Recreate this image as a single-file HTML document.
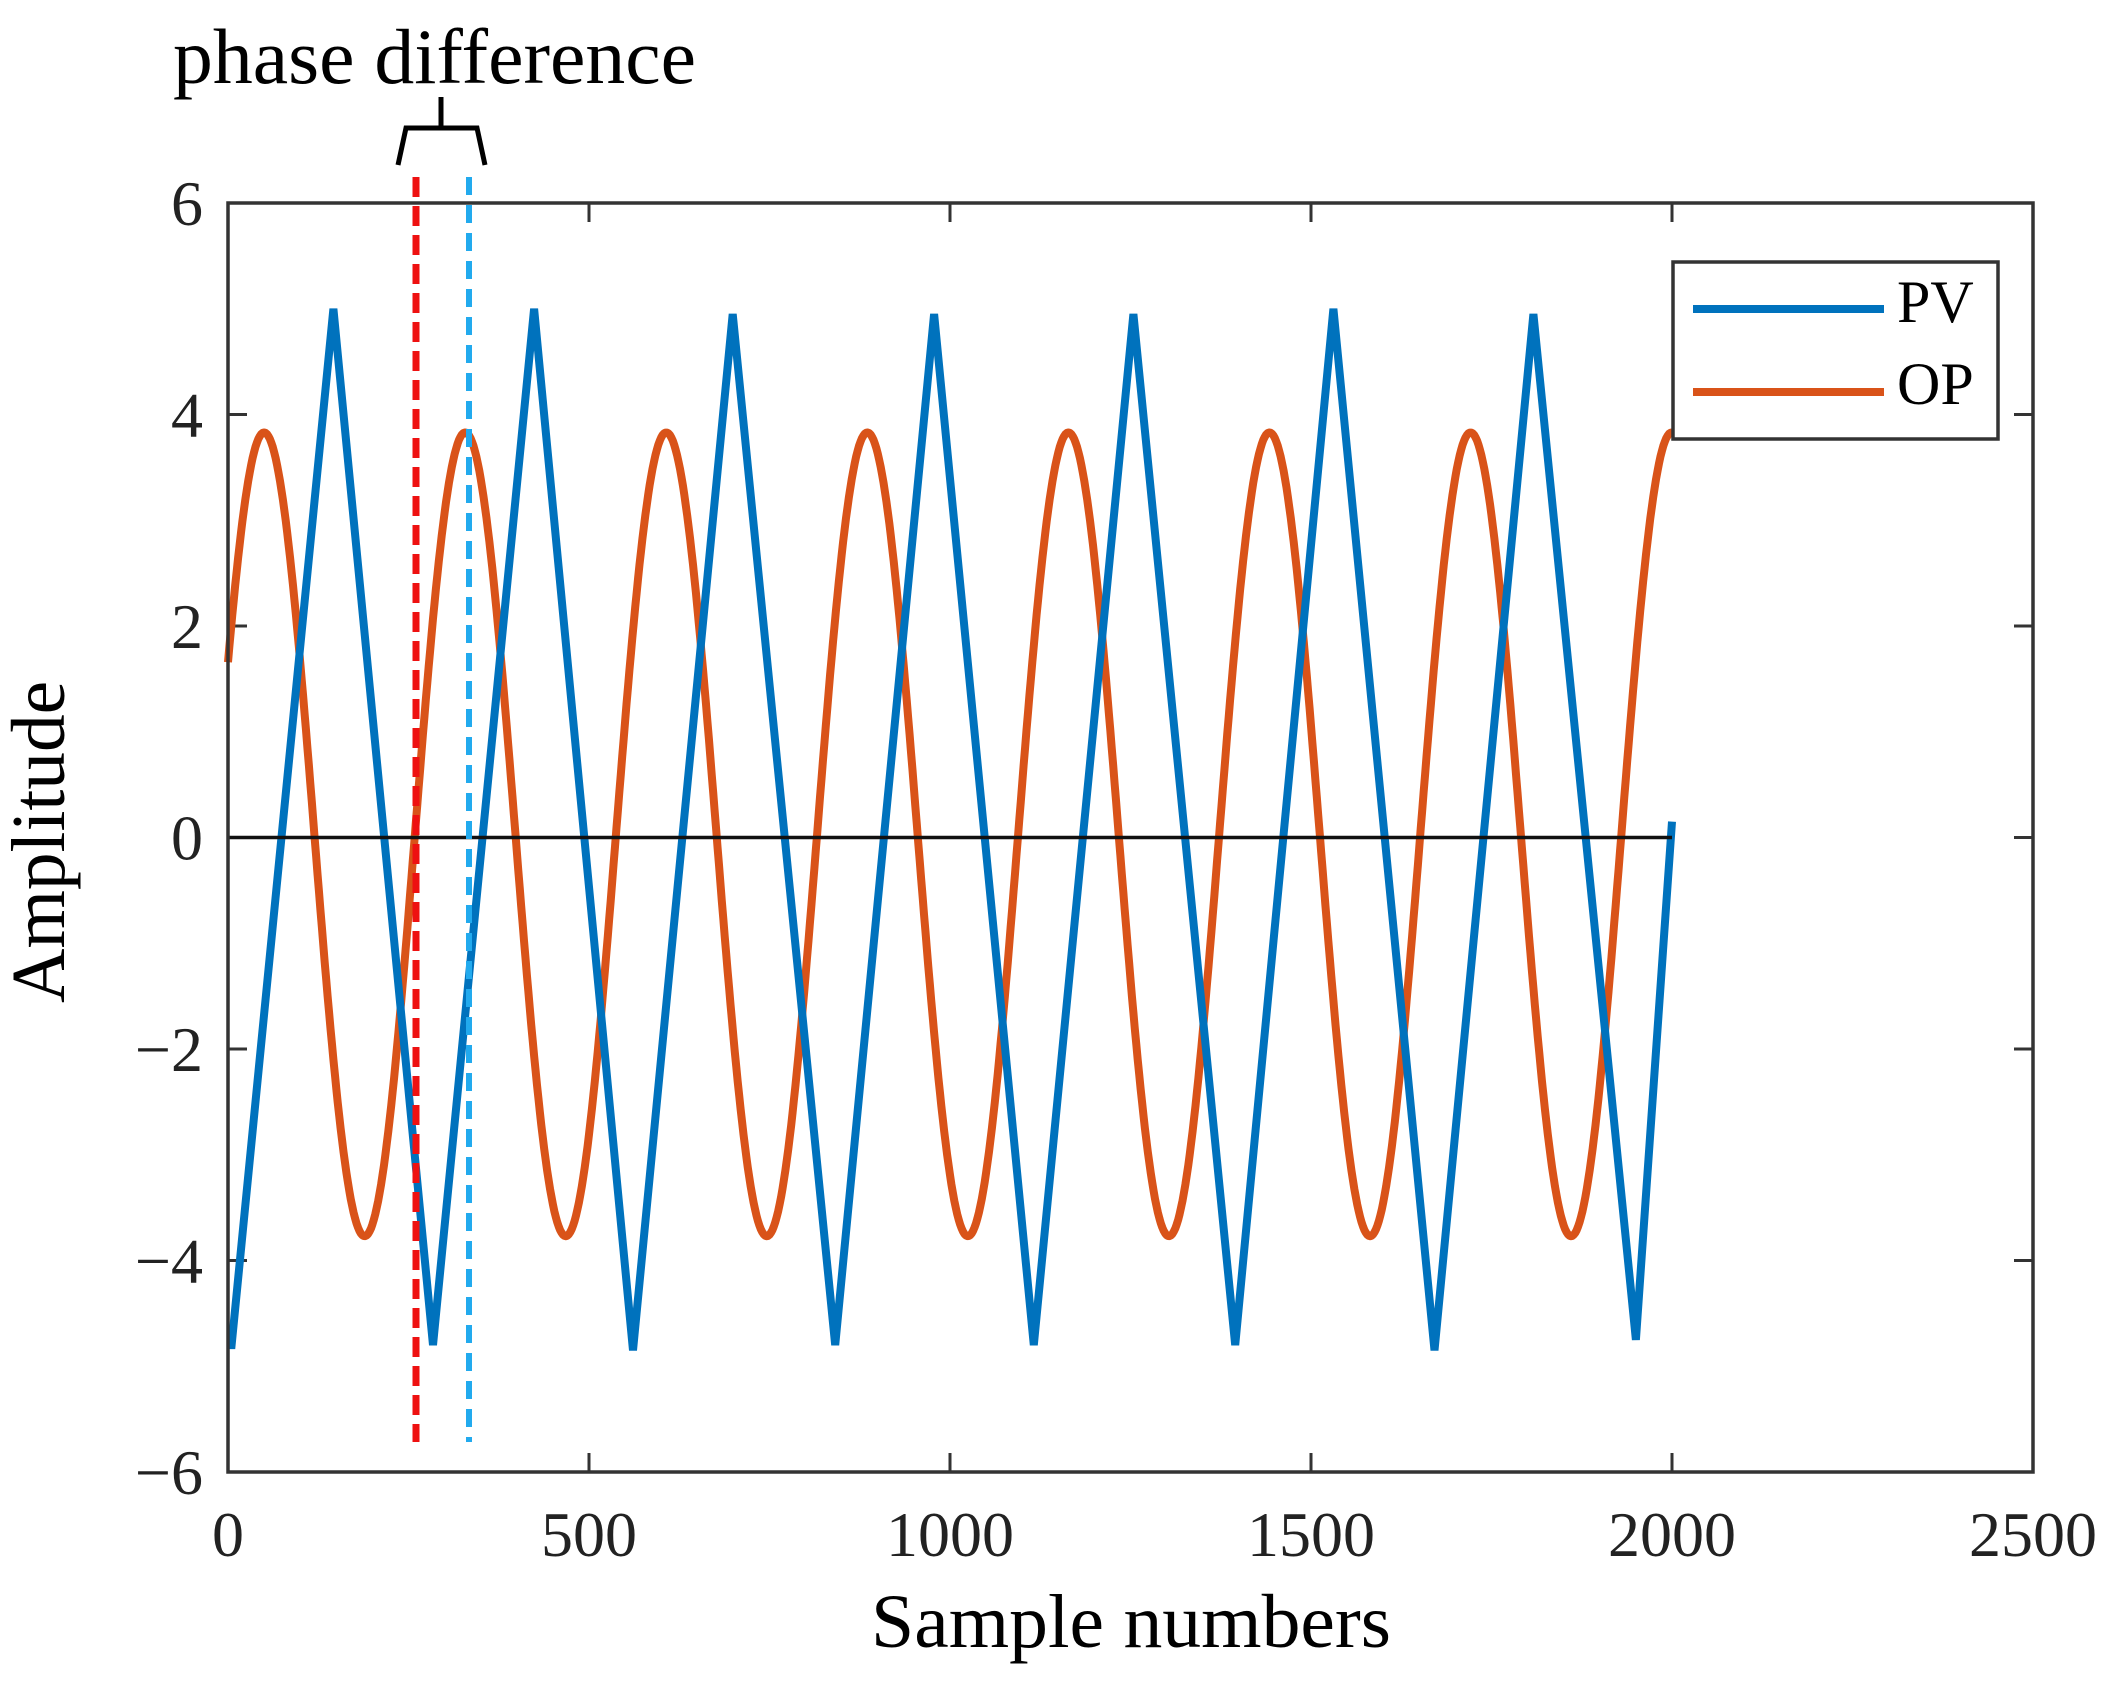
<!DOCTYPE html>
<html><head><meta charset="utf-8"><style>html,body{margin:0;padding:0;background:#fff}svg{display:block}</style></head>
<body>
<svg id="s" width="2116" height="1689" viewBox="0 0 2116 1689" xmlns="http://www.w3.org/2000/svg" font-family="'Liberation Serif', serif">
<rect width="2116" height="1689" fill="#fff"/>
<g id="ticks" stroke="#333" stroke-width="3"></g>
<path id="op" fill="none" stroke="#D95319" stroke-width="8" stroke-linejoin="round"/>
<path id="pv" fill="none" stroke="#0072BD" stroke-width="8" stroke-linejoin="miter"/>
<line x1="228" y1="837.5" x2="1672" y2="837.5" stroke="#111" stroke-width="3.5"/>
<line x1="416" y1="177" x2="416" y2="1442" stroke="#ee1111" stroke-width="7" stroke-dasharray="20 9"/>
<line x1="469" y1="177" x2="469" y2="1442" stroke="#22aaee" stroke-width="6" stroke-dasharray="18 10"/>
<path d="M398 165 L406 128 L477 128 L485 165 M441 128 L441 97" fill="none" stroke="#000" stroke-width="5"/>
<text x="173" y="83" font-size="78" textLength="523" lengthAdjust="spacingAndGlyphs">phase difference</text>
<rect x="228" y="203" width="1805" height="1269" fill="none" stroke="#333" stroke-width="3.5"/>
<rect x="1673" y="262" width="325" height="177" fill="#fff" stroke="#333" stroke-width="3.5"/>
<line x1="1693" y1="309" x2="1884" y2="309" stroke="#0072BD" stroke-width="8"/>
<line x1="1693" y1="392" x2="1884" y2="392" stroke="#D95319" stroke-width="8"/>
<text x="1897" y="322" font-size="60">PV</text>
<text x="1897" y="404" font-size="60">OP</text>
<g id="lbl" font-size="64" fill="#222"></g>
<text x="1131" y="1647" font-size="76" text-anchor="middle" textLength="520" lengthAdjust="spacingAndGlyphs">Sample numbers</text>
<text transform="translate(64,842) rotate(-90)" font-size="76" text-anchor="middle" textLength="322" lengthAdjust="spacingAndGlyphs">Amplitude</text>
</svg>
<script>
var X=function(s){return 228+s*1805/2500},Y=function(v){return 837.5-105.75*v};
var d="";for(var s=0;s<=2000;s+=2){var v=0.03+3.8*Math.cos(2*Math.PI*(s-50)/278.5);d+=(s?"L":"M")+X(s).toFixed(1)+" "+Y(v).toFixed(1);}
document.getElementById("op").setAttribute("d",d);
var p=[[0,-4.8],[5,-4.8],[146,5],[284,-4.8],[424,5],[561,-4.85],[699,4.95],[841,-4.8],[978,4.95],[1116,-4.8],[1254,4.95],[1395,-4.8],[1531,5],[1671,-4.85],[1808,4.95],[1950,-4.75],[2000,0.15]];
document.getElementById("pv").setAttribute("d",p.map(function(q,i){return (i?"L":"M")+X(q[0]).toFixed(1)+" "+Y(q[1]).toFixed(1)}).join(""));
var t="",l="";
for(var s=0;s<=2500;s+=500){var x=X(s);t+='<line x1="'+x+'" y1="1472" x2="'+x+'" y2="1453"/><line x1="'+x+'" y1="203" x2="'+x+'" y2="222"/>';l+='<text x="'+x+'" y="1556" text-anchor="middle">'+s+'</text>';}
for(var v=-6;v<=6;v+=2){var y=Y(v);t+='<line x1="228" y1="'+y+'" x2="247" y2="'+y+'"/><line x1="2033" y1="'+y+'" x2="2014" y2="'+y+'"/>';l+='<text x="203" y="'+(y+22)+'" text-anchor="end">'+(v<0?'\u2212'+(-v):v)+'</text>';}
document.getElementById("ticks").innerHTML=t;document.getElementById("lbl").innerHTML=l;
</script>
</body></html>
